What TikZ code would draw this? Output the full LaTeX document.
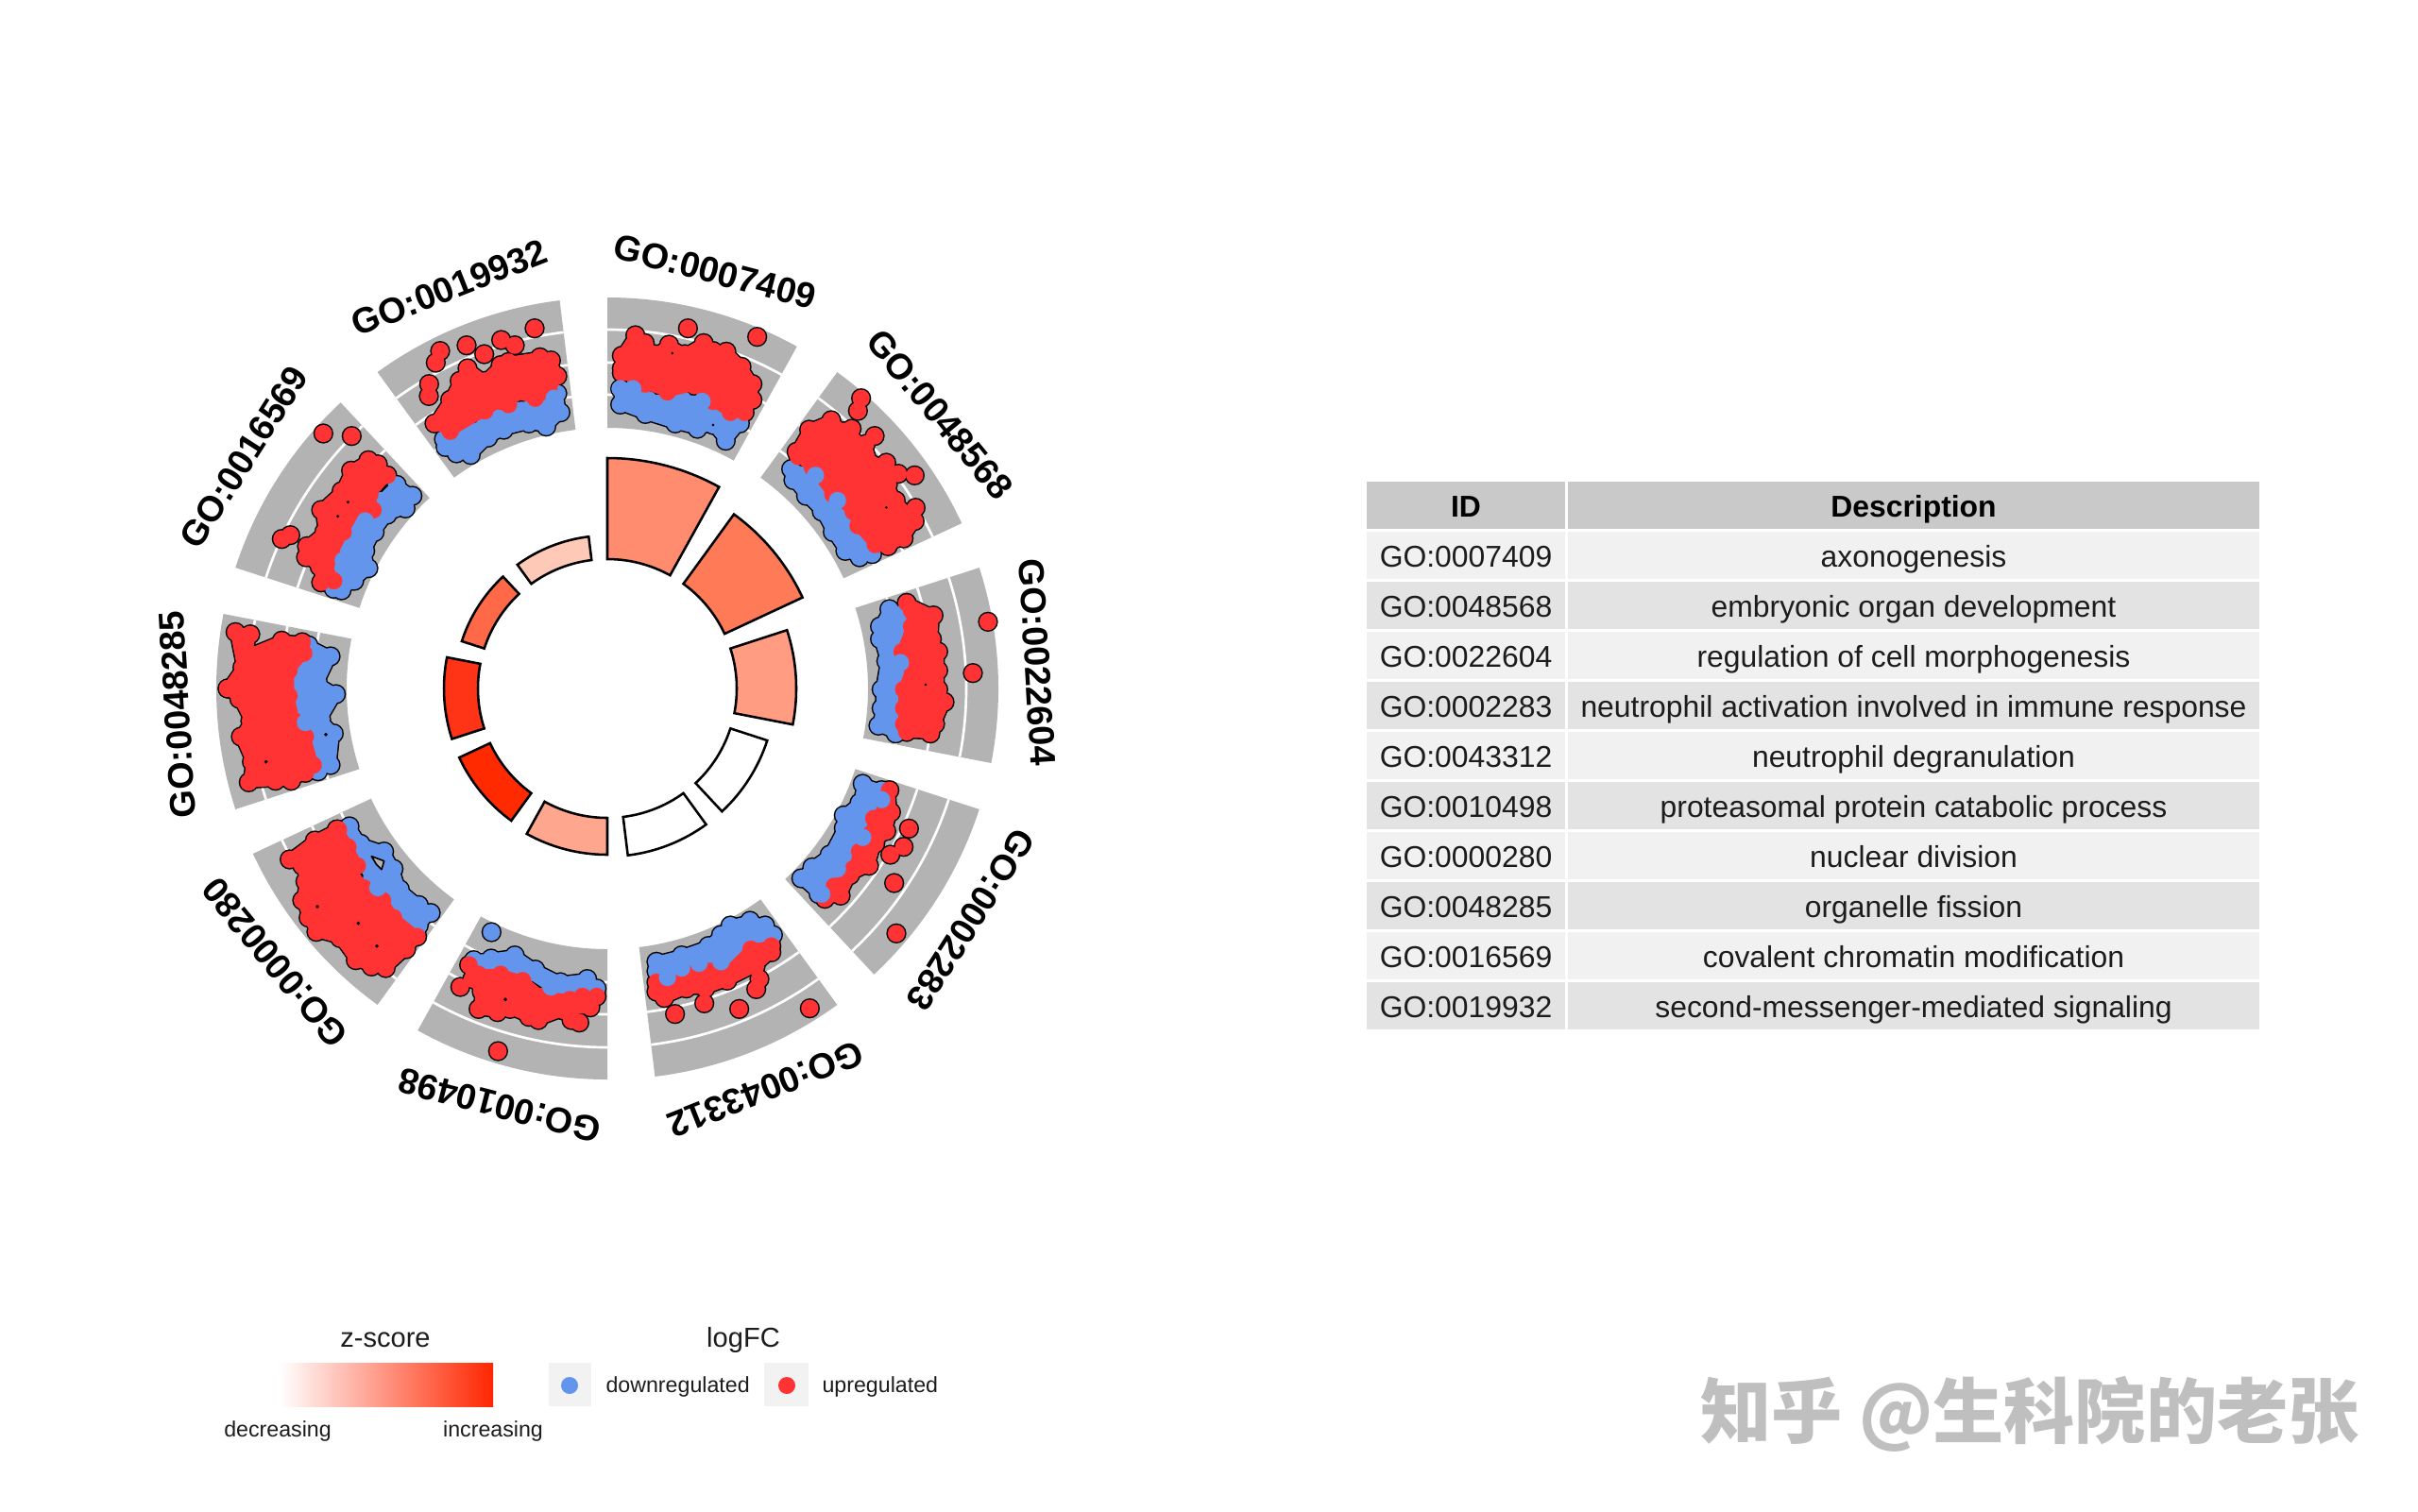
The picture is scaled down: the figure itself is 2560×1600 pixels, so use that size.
\documentclass[tikz,border=0pt]{standalone}
\usepackage{fontspec}
\setmainfont{Liberation Sans}
\newfontfamily\cjk{Noto Sans CJK SC}
\definecolor{ptred}{HTML}{FF3333}
\definecolor{ptblue}{HTML}{6495ED}
\definecolor{ringgray}{HTML}{B3B3B3}
\definecolor{hdrgray}{HTML}{C9C9C9}
\definecolor{rowa}{HTML}{F1F1F1}
\definecolor{rowb}{HTML}{E3E3E3}
\definecolor{keybg}{HTML}{F2F2F2}
\definecolor{inktxt}{HTML}{1C1C1C}
\definecolor{barhot}{HTML}{FF2600}
\definecolor{wmgray}{HTML}{BFBFBF}
\tikzset{
  zA/.style={shift={(640,300)},x=.125pt,y=-.125pt},
  zB/.style={shift={(640,730)},x=.125pt,y=-.125pt},
  zC/.style={shift={(220,730)},x=.125pt,y=-.125pt},
  zD/.style={shift={(220,300)},x=.125pt,y=-.125pt},
  barcell/.style={draw=black,line width=.95pt,line join=miter},
  golabel/.style={font=\fontsize{14.2}{17}\selectfont\bfseries,inner sep=0pt},
  tabtxt/.style={font=\fontsize{11.95}{14}\selectfont,text=inktxt,inner sep=0pt,anchor=base},
  tabhdr/.style={font=\fontsize{11.95}{14}\selectfont\bfseries,text=black,inner sep=0pt,anchor=base},
  legtitle/.style={font=\fontsize{10.9}{13}\selectfont,text=inktxt,inner sep=0pt},
  legtxt/.style={font=\fontsize{8.7}{11}\selectfont,text=inktxt,inner sep=0pt},
}
% annular sector: style, start angle, end angle, inner radius, outer radius
\newcommand\annsec[5]{\path[#1] (#2:#4) arc[start angle=#2,end angle=#3,radius=#4] -- (#3:#5) arc[start angle=#3,end angle=#2,radius=#5] -- cycle;}
% circles at a list of coordinates
\newcommand\ptmarks[3]{\path plot[only marks,mark=*,mark size=#2,mark options={draw=#1,fill=#1,line width=.01pt}] coordinates {#3};}
% frame, blue outline circles, red outline circles, separate red circles, blue circles lying over the red
\newcommand\cluster[5]{\begin{scope}[#1]
  \ptmarks{black}{3.95pt}{#2 #3 #4}
  \path[draw=black,line width=5.2pt,line join=round] plot coordinates {#2} -- cycle;
  \path[draw=black,line width=5.2pt,line join=round] plot coordinates {#3} -- cycle;
  \path[draw=ptblue,fill=ptblue,line width=4.1pt,line join=round] plot coordinates {#2} -- cycle;
  \ptmarks{ptblue}{3.4pt}{#2}
  \path[draw=ptred,fill=ptred,line width=4.1pt,line join=round] plot coordinates {#3} -- cycle;
  \ptmarks{ptred}{3.4pt}{#3}
  \ptmarks{ptblue}{3.4pt}{#5}
  \ptmarks{ptred}{3.4pt}{#4}
\end{scope}}
\begin{document}
\begin{tikzpicture}[x=.375pt,y=-.375pt]
\path[use as bounding box,fill=white] (0,0) rectangle (2560,1600);

\begin{scope}[shift={(643,729)}]
  % grey sectors
  \foreach \i in {0,...,9}{
    \pgfmathsetmacro\ta{36*\i-90}
    \pgfmathsetmacro\tb{36*\i-90+29}
    \annsec{fill=ringgray}{\ta}{\tb}{276}{414}
  }
  % white grid arcs
  \foreach \i/\rr in {0/{311,345,380},1/{311,345,380},2/{311,345,380},3/{345,380},4/{345,380},5/{311,345,380},6/{311,345,380},7/{311,345,380},8/{345,380},9/{311,345,380}}{
    \pgfmathsetmacro\ta{36*\i-90}
    \pgfmathsetmacro\tb{36*\i-90+29}
    \foreach \r in \rr {
      \draw[white,line width=1pt] (\ta:\r) arc[start angle=\ta,end angle=\tb,radius=\r];
    }
  }
  % z-score bars
  \foreach \i/\h/\c in {0/244/FF8C6E,1/228/FF7A57,2/200/FF9C82,3/178/FFFFFF,4/178/FFFFFF,5/176/FFA68E,6/173/FF2A00,7/173/FF3315,8/162/FF6947,9/162/FFC9B8}{
    \pgfmathsetmacro\ta{36*\i-90}
    \pgfmathsetmacro\tb{36*\i-90+29}
    \definecolor{barfill}{HTML}{\c}
    \annsec{barcell,fill=barfill}{\ta}{\tb}{137}{\h}
  }
  % GO term labels round the ring
  \foreach \i/\lab in {0/GO:0007409,1/GO:0048568,2/GO:0022604,3/GO:0002283,4/GO:0043312,5/GO:0010498,6/GO:0000280,7/GO:0048285,8/GO:0016569,9/GO:0019932}{
    \pgfmathsetmacro\th{36*\i+14.5}
    \pgfmathsetmacro\ta{\th-90}
    \pgfmathsetmacro\rt{-\th}
    \node[golabel,rotate=\rt] (golab\i) at (\ta:456) {\lab};
  }
\end{scope}

% GO:0007409
\cluster{zA}{(50,335)(90,335)(140,370)(250,370)(310,375)(345,410)(400,440)(430,445)(385,500)(345,450)(295,462)(225,445)(130,415)(50,385)}
{(55,270)(55,230)(98,165)(128,190)(160,225)(205,195)(255,225)(315,190)(345,215)(387,217)(435,265)(470,320)(470,370)(445,410)(400,410)(345,375)(285,325)(200,345)(130,320)(55,285)}
{(265,143)(485,170)}
{(310,375)(90,335)(50,335)}
% GO:0048568
\cluster{zA}{(593,590)(670,610)(740,690)(790,760)(830,830)(850,860)(810,870)(765,850)(725,790)(690,725)(640,675)(600,625)}
{(610,535)(650,465)(720,435)(760,470)(790,500)(830,510)(850,575)(895,570)(900,640)(925,690)(985,755)(950,810)(900,835)(860,830)(805,770)(790,725)(725,670)(660,585)(615,550)}
{(815,365)(805,405)(785,462)(858,485)(933,605)(985,610)(988,713)}
{(670,610)(740,690)}
% GO:0022604
\cluster{zA}{(905,1035)(945,1050)(960,1090)(945,1200)(950,1360)(925,1430)(870,1405)(880,1350)(880,1290)(895,1200)(875,1130)(875,1090)}
{(960,1015)(1045,1055)(1040,1130)(1060,1170)(1060,1230)(1060,1290)(1080,1330)(1050,1400)(1035,1430)(960,1425)(950,1400)(950,1350)(950,1290)(975,1220)(945,1170)(975,1090)(975,1040)}
{(1218,1075)(1170,1238)}
{(940,1205)}
% GO:0002283
\cluster{zB}{(820,300)(880,320)(880,370)(830,470)(770,530)(740,600)(690,650)(680,650)(625,600)(660,565)(715,525)(760,440)(760,400)(810,360)}
{(905,320)(910,390)(895,450)(860,490)(840,560)(780,590)(750,655)(700,665)(730,625)(790,570)(810,515)(845,460)(855,410)(890,380)}
{(920,615)(927,775)(967,442)(950,500)(908,525)}
{(820,470)(880,350)(740,570)(690,650)}
% GO:0043312
\cluster{zB}{(165,865)(245,845)(330,815)(370,780)(400,750)(462,735)(510,750)(535,780)(500,780)(460,810)(420,840)(370,865)(300,880)(245,905)(200,915)(165,895)}
{(165,930)(195,930)(270,905)(335,895)(385,905)(465,825)(530,815)(530,835)(480,880)(390,925)(320,950)(260,950)(190,980)(165,960)}
{(224,1031)(317,997)(428,1015)(652,1013)(482,952)(492,920)}
{(200,915)(245,885)(370,865)(300,870)}
% GO:0010498
\cluster{zC}{(845,860)(900,855)(975,845)(1040,890)(1120,930)(1205,920)(1235,950)(1160,960)(1090,945)(1020,900)(900,900)(860,880)}
{(830,875)(860,905)(930,905)(1000,925)(1060,975)(1150,985)(1190,975)(1235,975)(1215,1010)(1130,1020)(1050,1050)(1020,1040)(960,1015)(920,1025)(860,1015)(870,960)(840,920)}
{(802,945)(922,1149)(1155,1050)(1180,1058)}
{(1090,945)}
\begin{scope}[zC]
  \ptmarks{black}{3.95pt}{(901,771)}
  \ptmarks{ptblue}{3.4pt}{(901,771)}
\end{scope}
% GO:0000280
\cluster{zC}{(450,435)(485,490)(560,515)(590,570)(610,635)(670,685)(708,710)(670,750)(650,760)(600,700)(560,650)(520,600)(470,520)}
{(410,445)(340,480)(260,540)(300,560)(310,610)(300,670)(320,725)(345,770)(420,790)(470,860)(520,880)(565,885)(630,825)(665,785)(590,725)(555,670)(495,630)(455,575)(475,560)(445,500)(415,445)}
{(410,445)}
{(540,630)}
\draw[black,line width=.6pt,fill=ringgray,line join=round,zC] (520,530) -- (560,545) -- (552,572) -- (535,555) -- cycle;
% GO:0048285
\cluster{zD}{(320,1150)(390,1185)(350,1270)(407,1305)(360,1385)(400,1430)(390,1530)(350,1550)(300,1500)(250,1400)(250,1200)}
{(88,1108)(135,1115)(125,1180)(235,1135)(300,1140)(305,1175)(258,1230)(258,1310)(275,1390)(310,1440)(335,1530)(310,1555)(265,1580)(215,1580)(130,1585)(140,1520)(105,1440)(135,1390)(100,1320)(63,1287)(110,1220)}
{(63,1287)}
{(310,1395)}
% GO:0016569
\cluster{zD}{(600,640)(650,675)(628,715)(570,735)(530,790)(500,850)(510,905)(465,945)(425,975)(400,970)(400,900)(430,860)(450,790)(490,740)(550,690)}
{(510,562)(455,595)(425,660)(360,720)(370,790)(315,835)(312,870)(355,900)(360,950)(380,925)(395,860)(430,790)(470,720)(525,720)(515,670)(570,610)(540,575)}
{(367,477)(457,485)(235,812)(262,800)(400,945)}
{(430,880)(500,755)}
% GO:0019932
\cluster{zD}{(1110,350)(1120,410)(1075,455)(1020,445)(940,465)(890,490)(835,545)(790,540)(755,520)(750,495)(880,450)(915,410)(950,395)(1050,390)}
{(1055,235)(1090,245)(1110,295)(1085,345)(1040,365)(975,350)(955,385)(930,375)(880,405)(770,470)(720,445)(770,370)(800,310)(825,270)(880,310)(930,260)(955,250)}
{(1038,143)(738,215)(724,252)(703,320)(702,358)(822,197)(878,225)(932,180)(975,197)}
{(1100,365)}
% small gaps between the overlapping points
\begin{scope}[zC]\ptmarks{black}{.7pt}{(185,230)(375,143)(348,690)(478,743)(537,815)(945,985)}\end{scope}
\begin{scope}[zA]\ptmarks{black}{.5pt}{(215,222)(345,450)(895,712)(1020,1275)}\end{scope}
\begin{scope}[zD]\ptmarks{black}{.6pt}{(445,695)(413,740)}\end{scope}

% table
\fill[hdrgray] (1447,510) rectangle (1657,560);
\fill[hdrgray] (1660,510) rectangle (2392,560);
\node[tabhdr] (hid) at (1552,547) {ID};
\node[tabhdr] (hdesc) at (2026,547) {Description};
\foreach \n/\id/\desc in {
  1/GO:0007409/axonogenesis,
  2/GO:0048568/embryonic organ development,
  3/GO:0022604/regulation of cell morphogenesis,
  4/GO:0002283/neutrophil activation involved in immune response,
  5/GO:0043312/neutrophil degranulation,
  6/GO:0010498/proteasomal protein catabolic process,
  7/GO:0000280/nuclear division,
  8/GO:0048285/organelle fission,
  9/GO:0016569/covalent chromatin modification,
  10/GO:0019932/second-messenger-mediated signaling}{
  \pgfmathsetmacro\yt{510+53*\n}
  \pgfmathsetmacro\yb{\yt+50}
  \pgfmathsetmacro\ym{\yt+37}
  \pgfmathtruncatemacro\odd{mod(\n,2)}
  \ifnum\odd=1 \colorlet{rowc}{rowa}\else\colorlet{rowc}{rowb}\fi
  \fill[rowc] (1447,\yt) rectangle (1657,\yb);
  \fill[rowc] (1660,\yt) rectangle (2392,\yb);
  \node[tabtxt] (id\n) at (1552,\ym) {\id};
  \node[tabtxt] (desc\n) at (2026,\ym) {\desc};
}

% legend
\node[legtitle] (ztitle) at (408,1419) {z-score};
\shade[left color=white,right color=barhot] (296,1443) rectangle (522,1489);
\node[legtxt] (zlo) at (294,1515) {decreasing};
\node[legtxt] (zhi) at (522,1515) {increasing};
\node[legtitle] (ltitle) at (787,1419) {logFC};
\fill[keybg] (581,1443) rectangle (626,1489);
\fill[ptblue] (603,1467) circle[radius=9];
\node[legtxt,anchor=west] (kdown) at (641,1468) {downregulated};
\fill[keybg] (809,1443) rectangle (856,1489);
\fill[ptred] (833,1467) circle[radius=9];
\node[legtxt,anchor=west] (kup) at (870,1468) {upregulated};

% watermark
\node[font=\cjk\fontsize{28.2}{30}\selectfont\bfseries,text=wmgray,anchor=west,inner sep=0pt] (wm) at (1800,1497) {知乎 @生科院的老张};
\end{tikzpicture}
\end{document}
